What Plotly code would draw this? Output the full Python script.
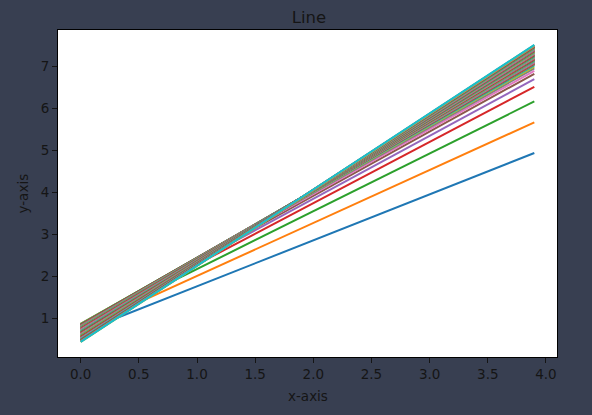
import plotly.graph_objects as go

# x positions of each line's two ends
x_ends = [0.0, 3.9]

# y value of each line at x = 0
y_start = [0.66, 0.74, 0.79, 0.82, 0.84, 0.85, 0.86, 0.86, 0.86, 0.85,
           0.85, 0.84, 0.84, 0.83, 0.82, 0.81, 0.80, 0.80, 0.79, 0.78,
           0.77, 0.76, 0.75, 0.74, 0.73, 0.72, 0.71, 0.70, 0.69, 0.68,
           0.67, 0.66, 0.65, 0.64, 0.63, 0.62, 0.61, 0.60, 0.59, 0.58,
           0.57, 0.56, 0.55, 0.54, 0.53, 0.52, 0.51, 0.50, 0.49, 0.49,
           0.48, 0.47, 0.47, 0.46, 0.45, 0.45, 0.44, 0.44, 0.43, 0.43]

# y value of each line at x = 3.9
y_end = [4.94, 5.67, 6.17, 6.52, 6.70, 6.83, 6.90, 6.96, 7.00, 7.03,
         7.05, 7.06, 7.07, 7.08, 7.09, 7.10, 7.11, 7.12, 7.13, 7.14,
         7.15, 7.16, 7.17, 7.18, 7.19, 7.20, 7.21, 7.22, 7.23, 7.24,
         7.25, 7.26, 7.27, 7.28, 7.29, 7.30, 7.31, 7.32, 7.33, 7.34,
         7.35, 7.36, 7.37, 7.38, 7.39, 7.40, 7.41, 7.42, 7.43, 7.44,
         7.45, 7.46, 7.47, 7.48, 7.49, 7.49, 7.50, 7.51, 7.51, 7.52]

x_ticks = [0.0, 0.5, 1.0, 1.5, 2.0, 2.5, 3.0, 3.5, 4.0]
y_ticks = [1, 2, 3, 4, 5, 6, 7]

colors = ["#1f77b4", "#ff7f0e", "#2ca02c", "#d62728", "#9467bd",
          "#8c564b", "#e377c2", "#7f7f7f", "#bcbd22", "#17becf"]

fig = go.Figure()
for i, (a, b) in enumerate(zip(y_start, y_end)):
    fig.add_trace(go.Scatter(
        x=x_ends, y=[a, b], mode="lines",
        line=dict(color=colors[i % 10], width=2.0),
        showlegend=False, hoverinfo="skip"))

bg = "#383f51"
font = dict(family="DejaVu Sans", color="#151515", size=13.5)
axis_common = dict(showline=True, linecolor="#000000", linewidth=1.1, mirror=True,
                   ticks="outside", ticklen=5, tickwidth=1.1, tickcolor="#151515",
                   showgrid=False, zeroline=False, tickfont=font)

fig.update_layout(
    width=592, height=415,
    paper_bgcolor=bg, plot_bgcolor="#ffffff",
    margin=dict(l=58, r=35, t=30, b=58),
    font=font,
    title=dict(text="Line", x=0.522, xanchor="center", y=1 - 17.5 / 415,
               yanchor="middle", font=dict(family="DejaVu Sans", size=16.5, color="#151515")),
    xaxis=dict(range=[-0.195, 4.095], tickvals=x_ticks, tickformat=".1f", **axis_common),
    yaxis=dict(range=[0.07, 7.875], tickvals=y_ticks, **axis_common),
    annotations=[
        dict(text="x-axis", xref="paper", yref="paper", x=0.5, y=-39 / 327,
             xanchor="center", yanchor="middle", showarrow=False, font=font),
        dict(text="y-axis", xref="paper", yref="paper", x=-36 / 499, y=0.5,
             xanchor="center", yanchor="middle", textangle=-90, showarrow=False, font=font),
    ],
)

fig.write_html(
    "out.html",
    config={"displayModeBar": False},
    post_script="document.body.style.margin='0';document.body.style.overflow='hidden';"
                "document.body.style.background='#383f51';",
)
